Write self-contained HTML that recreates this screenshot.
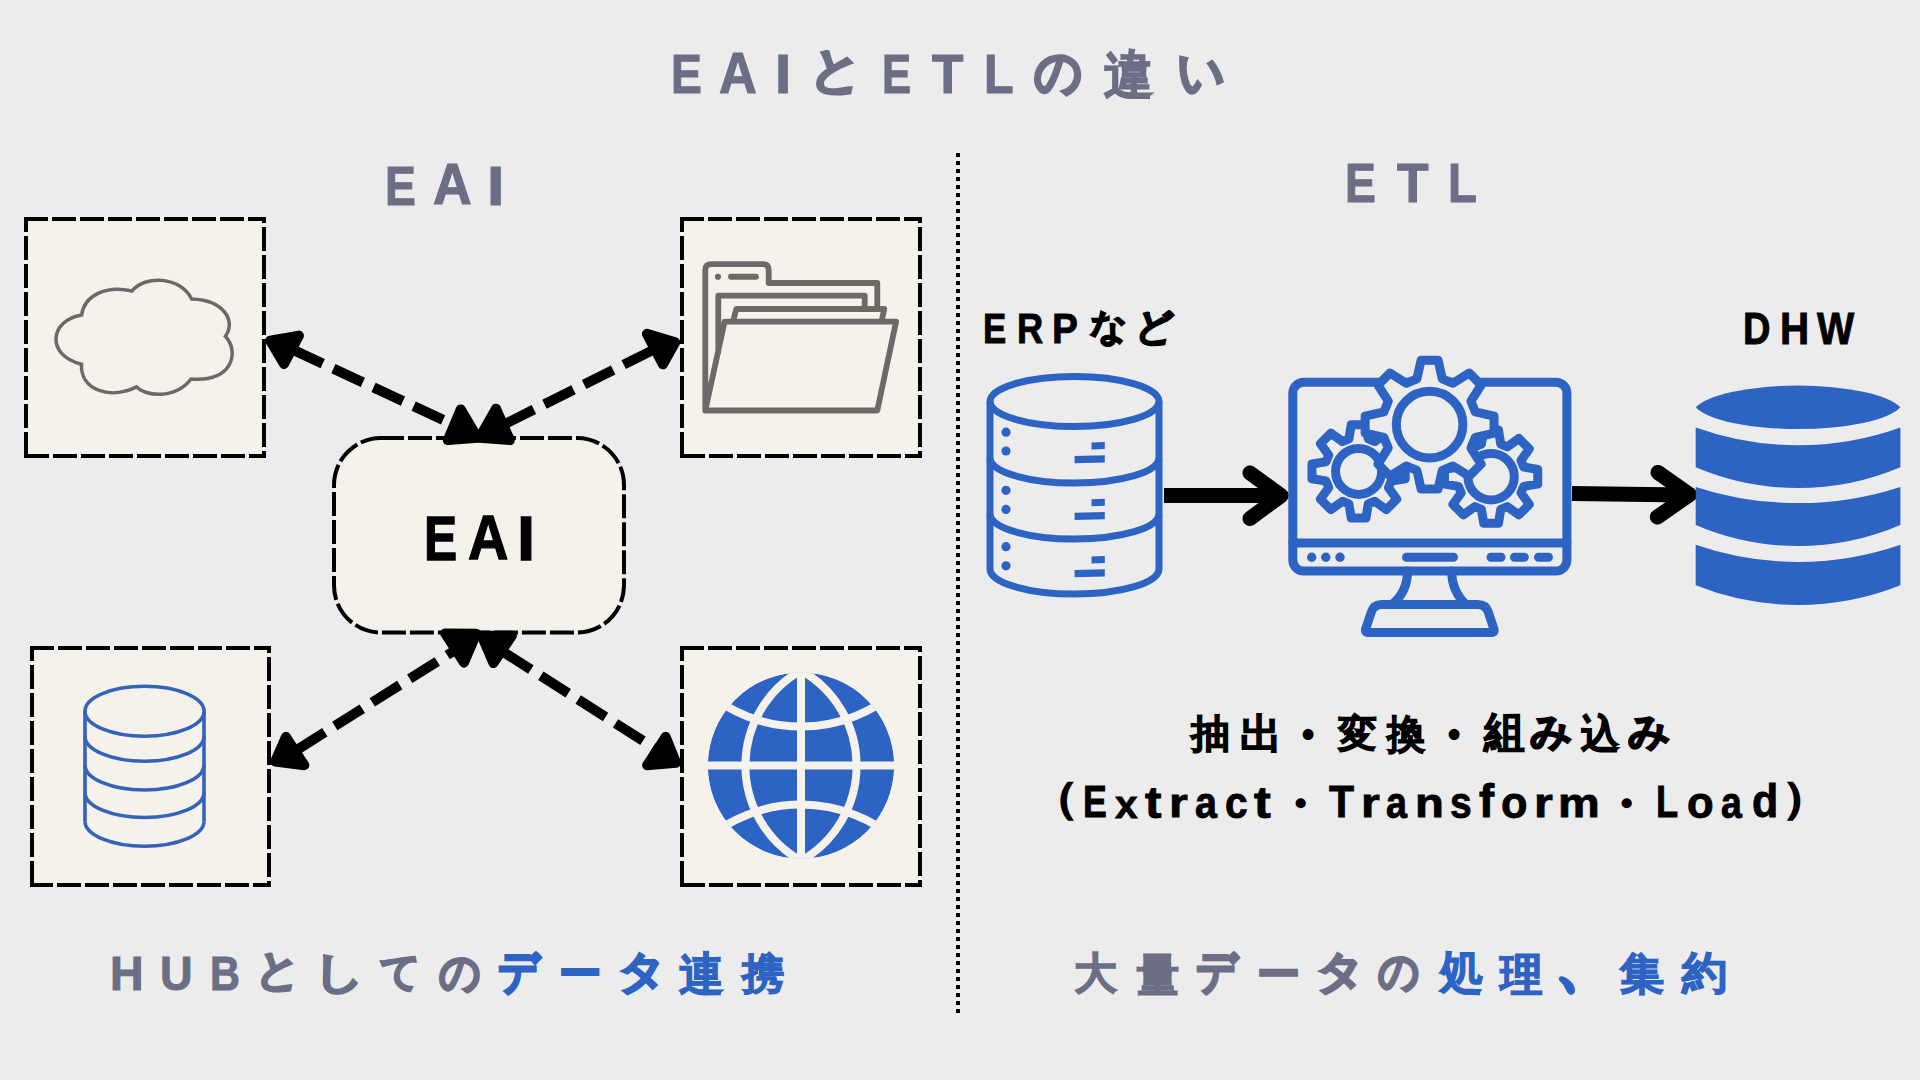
<!DOCTYPE html>
<html lang="ja"><head><meta charset="utf-8"><title>EAIとETLの違い</title>
<style>
html,body{margin:0;padding:0;}
body{width:1920px;height:1080px;background:#ececec;position:relative;overflow:hidden;font-family:"Liberation Sans",sans-serif;font-weight:bold;}
svg{position:absolute;left:0;top:0;}
.t{position:absolute;white-space:nowrap;line-height:1;}
.g{position:absolute;line-height:1;white-space:nowrap;transform-origin:0 0;}
</style></head><body>
<svg width="1920" height="1080" viewBox="0 0 1920 1080">
<rect x="24" y="217" width="242" height="241" fill="#f5f2ec"/>
<path d="M24 217h24v4h-24zM52 217h24v4h-24zM80 217h24v4h-24zM108 217h24v4h-24zM136 217h24v4h-24zM164 217h24v4h-24zM192 217h24v4h-24zM220 217h24v4h-24zM248 217h18v4h-18zM262 217h4v6h-4zM262 227h4v24h-4zM262 255h4v24h-4zM262 283h4v24h-4zM262 311h4v24h-4zM262 339h4v24h-4zM262 367h4v24h-4zM262 395h4v24h-4zM262 423h4v24h-4zM262 451h4v7h-4zM249 454h17v4h-17zM221 454h24v4h-24zM193 454h24v4h-24zM165 454h24v4h-24zM137 454h24v4h-24zM109 454h24v4h-24zM81 454h24v4h-24zM53 454h24v4h-24zM25 454h24v4h-24zM24 432h4v26h-4zM24 404h4v24h-4zM24 376h4v24h-4zM24 348h4v24h-4zM24 320h4v24h-4zM24 292h4v24h-4zM24 264h4v24h-4zM24 236h4v24h-4zM24 217h4v15h-4z" fill="#000"/>
<rect x="680" y="217" width="242" height="241" fill="#f5f2ec"/>
<path d="M680 217h24v4h-24zM708 217h24v4h-24zM736 217h24v4h-24zM764 217h24v4h-24zM792 217h24v4h-24zM820 217h24v4h-24zM848 217h24v4h-24zM876 217h24v4h-24zM904 217h18v4h-18zM918 217h4v6h-4zM918 227h4v24h-4zM918 255h4v24h-4zM918 283h4v24h-4zM918 311h4v24h-4zM918 339h4v24h-4zM918 367h4v24h-4zM918 395h4v24h-4zM918 423h4v24h-4zM918 451h4v7h-4zM905 454h17v4h-17zM877 454h24v4h-24zM849 454h24v4h-24zM821 454h24v4h-24zM793 454h24v4h-24zM765 454h24v4h-24zM737 454h24v4h-24zM709 454h24v4h-24zM681 454h24v4h-24zM680 432h4v26h-4zM680 404h4v24h-4zM680 376h4v24h-4zM680 348h4v24h-4zM680 320h4v24h-4zM680 292h4v24h-4zM680 264h4v24h-4zM680 236h4v24h-4zM680 217h4v15h-4z" fill="#000"/>
<rect x="30" y="646" width="241" height="241" fill="#f5f2ec"/>
<path d="M30 646h24v4h-24zM58 646h24v4h-24zM86 646h24v4h-24zM114 646h24v4h-24zM142 646h24v4h-24zM170 646h24v4h-24zM198 646h24v4h-24zM226 646h24v4h-24zM254 646h17v4h-17zM267 646h4v7h-4zM267 657h4v24h-4zM267 685h4v24h-4zM267 713h4v24h-4zM267 741h4v24h-4zM267 769h4v24h-4zM267 797h4v24h-4zM267 825h4v24h-4zM267 853h4v24h-4zM267 881h4v6h-4zM253 883h18v4h-18zM225 883h24v4h-24zM197 883h24v4h-24zM169 883h24v4h-24zM141 883h24v4h-24zM113 883h24v4h-24zM85 883h24v4h-24zM57 883h24v4h-24zM30 883h23v4h-23zM30 861h4v26h-4zM30 833h4v24h-4zM30 805h4v24h-4zM30 777h4v24h-4zM30 749h4v24h-4zM30 721h4v24h-4zM30 693h4v24h-4zM30 665h4v24h-4zM30 646h4v15h-4z" fill="#000"/>
<rect x="680" y="646" width="242" height="241" fill="#f5f2ec"/>
<path d="M680 646h24v4h-24zM708 646h24v4h-24zM736 646h24v4h-24zM764 646h24v4h-24zM792 646h24v4h-24zM820 646h24v4h-24zM848 646h24v4h-24zM876 646h24v4h-24zM904 646h18v4h-18zM918 646h4v6h-4zM918 656h4v24h-4zM918 684h4v24h-4zM918 712h4v24h-4zM918 740h4v24h-4zM918 768h4v24h-4zM918 796h4v24h-4zM918 824h4v24h-4zM918 852h4v24h-4zM918 880h4v7h-4zM905 883h17v4h-17zM877 883h24v4h-24zM849 883h24v4h-24zM821 883h24v4h-24zM793 883h24v4h-24zM765 883h24v4h-24zM737 883h24v4h-24zM709 883h24v4h-24zM681 883h24v4h-24zM680 861h4v26h-4zM680 833h4v24h-4zM680 805h4v24h-4zM680 777h4v24h-4zM680 749h4v24h-4zM680 721h4v24h-4zM680 693h4v24h-4zM680 665h4v24h-4zM680 646h4v15h-4z" fill="#000"/>
<rect x="334" y="438" width="290" height="194.5" rx="47" ry="47" fill="#f5f2ec" stroke="#000" stroke-width="4" stroke-dasharray="24 4" stroke-dashoffset="1"/>
<line x1="958" y1="153" x2="958" y2="1013" stroke="#000" stroke-width="4" stroke-dasharray="4 4"/>
<path d="M81.7 314.9 C84 296 105 285 132 291 C145 275 180 276 191.7 299 C225 300 236 322 225.4 336.3 C240 352 232 383 191 379 C175 400 145 396 136.6 386.9 C110 400 80 390 81.5 364.2 C45 355 50 320 81.7 314.9 Z" fill="none" stroke="#6b6a68" stroke-width="3.5" stroke-linejoin="miter"/>
<path d="M705.3 410.5 V270 Q705.3 264.2 711 264.2 H763 Q768.7 264.2 768.7 270 V283 H877.3 V309 M718.3 352 V295.6 H864.7 V309 M733 321.6 L736.3 309 H884.3 L881.5 321.6 M724.6 321.6 H896.1 L877.3 410.5 H705.3 Z" fill="none" stroke="#6b6a68" stroke-width="5.8" stroke-linejoin="round" stroke-linecap="round"/>
<circle cx="718" cy="276.75" r="3.1" fill="#6b6a68"/>
<line x1="731" y1="276.75" x2="756" y2="276.75" stroke="#6b6a68" stroke-width="5.8" stroke-linecap="round"/>
<g fill="none" stroke="#3563b8" stroke-width="3.6">
<ellipse cx="144.5" cy="711.25" rx="59.5" ry="25"/>
<path d="M85.0 736.25 A59.5 25 0 0 0 204.0 736.25"/>
<path d="M85.0 765 A59.5 25 0 0 0 204.0 765"/>
<path d="M85.0 792.5 A59.5 25 0 0 0 204.0 792.5"/>
<path d="M85.0 821.25 A59.5 25 0 0 0 204.0 821.25"/>
<line x1="85.0" y1="711.25" x2="85.0" y2="821.25"/><line x1="204.0" y1="711.25" x2="204.0" y2="821.25"/>
</g>
<defs><clipPath id="gclip"><circle cx="801" cy="765.6" r="93.2"/></clipPath></defs>
<g clip-path="url(#gclip)">
<circle cx="801" cy="765.6" r="93.2" fill="#2d63c3"/>
<g fill="none" stroke="#f5f2ec" stroke-width="8">
<line x1="801" y1="667.4" x2="801" y2="863.8000000000001"/>
<line x1="702.8" y1="765.6" x2="899.2" y2="765.6"/>
<path d="M801 670.4 A109.3 109.3 0 0 0 801 860.8000000000001 M801 670.4 A109.3 109.3 0 0 1 801 860.8000000000001"/>
<circle cx="801" cy="579.7" r="146.9"/>
<circle cx="801" cy="951.5" r="146.9"/>
</g></g>
<path d="M293.26 349.85L322.71 363.61M333.4 368.6L362.85 382.36M373.54 387.35L402.98 401.11M413.67 406.1L443.12 419.86M453.81 424.85L469.3 432.09" stroke="#000" stroke-width="10" fill="none"/>
<path d="M652.78 350.11L623.71 364.64M613.16 369.92L584.09 384.45M573.54 389.73L544.47 404.27M533.91 409.54L504.84 424.08M494.29 429.35L487.94 432.53" stroke="#000" stroke-width="10" fill="none"/>
<path d="M297.58 749.47L324.82 732.29M334.8 726L362.29 708.67M372.27 702.37L399.77 685.04M409.75 678.75L437.24 661.42M447.22 655.12L474.38 638.01" stroke="#000" stroke-width="10" fill="none"/>
<path d="M503.42 652.02L530.84 669.47M540.8 675.8L568.22 693.25M578.18 699.58L605.6 717.03M615.55 723.36L642.97 740.81M652.93 747.14L658.92 750.95" stroke="#000" stroke-width="10" fill="none"/>
<path d="M270.23 340.61 L298.94 335.62 L284.03 364 Z" fill="#000" stroke="#000" stroke-width="10" stroke-linejoin="round"/>
<path d="M460.74 409.39 L447.77 440.09 L477.55 437.72 Z" fill="#000" stroke="#000" stroke-width="10" stroke-linejoin="round"/>
<path d="M496.03 408.69 L479.43 437.68 L509.91 440.13 Z" fill="#000" stroke="#000" stroke-width="10" stroke-linejoin="round"/>
<path d="M675.27 342.39 L646.89 333.84 L662.95 364.3 Z" fill="#000" stroke="#000" stroke-width="10" stroke-linejoin="round"/>
<path d="M275.14 761.52 L285.94 736.89 L304.34 765.18 Z" fill="#000" stroke="#000" stroke-width="10" stroke-linejoin="round"/>
<path d="M464 662.62 L445.09 633.39 L476.31 633.73 Z" fill="#000" stroke="#000" stroke-width="10" stroke-linejoin="round"/>
<path d="M493.44 663.02 L481.67 635.75 L511.87 635.82 Z" fill="#000" stroke="#000" stroke-width="10" stroke-linejoin="round"/>
<path d="M676.04 762.68 L665.67 736.88 L647.11 765.27 Z" fill="#000" stroke="#000" stroke-width="10" stroke-linejoin="round"/>
<g fill="none" stroke="#2d63c3" stroke-width="7">
<ellipse cx="1074.5" cy="401.5" rx="84.5" ry="25"/>
<path d="M990.0 458 A84.5 25 0 0 0 1159.0 458"/>
<path d="M990.0 514 A84.5 25 0 0 0 1159.0 514"/>
<path d="M990.0 569 A84.5 25 0 0 0 1159.0 569"/>
<path d="M990.0 401.5 V569 M1159.0 401.5 V569"/>
</g>
<circle cx="1006" cy="432.2" r="4.6" fill="#2d63c3"/>
<circle cx="1006" cy="451" r="4.6" fill="#2d63c3"/>
<circle cx="1006" cy="490.3" r="4.6" fill="#2d63c3"/>
<circle cx="1006" cy="509.4" r="4.6" fill="#2d63c3"/>
<circle cx="1006" cy="546.7" r="4.6" fill="#2d63c3"/>
<circle cx="1006" cy="565.8" r="4.6" fill="#2d63c3"/>
<path d="M1091.5 442.4 L1104.8 441.9 V449 L1091.5 449.5 Z M1074.6 456 L1104.8 455.2 V462.4 L1074.6 463.3 Z" fill="#2d63c3"/>
<path d="M1091.5 499.2 L1104.8 498.7 V505.8 L1091.5 506.3 Z M1074.6 512.8 L1104.8 512.0 V519.1999999999999 L1074.6 520.1 Z" fill="#2d63c3"/>
<path d="M1091.5 556.4 L1104.8 555.9 V563 L1091.5 563.5 Z M1074.6 570 L1104.8 569.2 V576.4 L1074.6 577.3 Z" fill="#2d63c3"/>
<g fill="none" stroke="#2d63c3" stroke-width="9" stroke-linejoin="round" stroke-linecap="round">
<rect x="1292.8" y="382.2" width="274.1" height="188.9" rx="11"/>
<line x1="1292.8" y1="542.9" x2="1566.9" y2="542.9"/>
<path d="M1407.5 571 C1407.5 588 1400 598 1392 604.5 M1451.7 571 C1451.7 588 1459 598 1466 604.5"/>
<path d="M1381.8 604.5 H1477.8 Q1485.8 604.5 1488.3 612.1 L1493.85 628.7 Q1495.1 632.5 1491.1 632.5 H1368.5 Q1364.5 632.5 1365.75 628.7 L1371.3 612.1 Q1373.8 604.5 1381.8 604.5 Z"/>
<path d="M1406.5 557.2 H1453.5 M1491 557.2 H1501 M1514.5 557.2 H1524.3 M1538.5 557.2 H1548.5"/>
</g>
<circle cx="1311.7" cy="557.2" r="4.7" fill="#2d63c3"/>
<circle cx="1325.8" cy="557.2" r="4.7" fill="#2d63c3"/>
<circle cx="1340" cy="557.2" r="4.7" fill="#2d63c3"/>
<path d="M1348.94 438.8 L1351.22 424.78 L1365.98 424.78 L1368.26 438.8 L1374.82 441.52 L1386.34 433.21 L1396.79 443.66 L1388.48 455.18 L1391.2 461.74 L1405.22 464.02 L1405.22 478.78 L1391.2 481.06 L1388.48 487.62 L1396.79 499.14 L1386.34 509.59 L1374.82 501.28 L1368.26 504 L1365.98 518.02 L1351.22 518.02 L1348.94 504 L1342.38 501.28 L1330.86 509.59 L1320.41 499.14 L1328.72 487.62 L1326 481.06 L1311.98 478.78 L1311.98 464.02 L1326 461.74 L1328.72 455.18 L1320.41 443.66 L1330.86 433.21 L1342.38 441.52 Z" fill="none" stroke="#2d63c3" stroke-width="9" stroke-linejoin="round"/>
<circle cx="1358.6" cy="471.4" r="23" fill="none" stroke="#2d63c3" stroke-width="9"/>
<path d="M1481.44 444.1 L1483.72 430.08 L1498.48 430.08 L1500.76 444.1 L1507.32 446.82 L1518.84 438.51 L1529.29 448.96 L1520.98 460.48 L1523.7 467.04 L1537.72 469.32 L1537.72 484.08 L1523.7 486.36 L1520.98 492.92 L1529.29 504.44 L1518.84 514.89 L1507.32 506.58 L1500.76 509.3 L1498.48 523.32 L1483.72 523.32 L1481.44 509.3 L1474.88 506.58 L1463.36 514.89 L1452.91 504.44 L1461.22 492.92 L1458.5 486.36 L1444.48 484.08 L1444.48 469.32 L1458.5 467.04 L1461.22 460.48 L1452.91 448.96 L1463.36 438.51 L1474.88 446.82 Z" fill="none" stroke="#2d63c3" stroke-width="9" stroke-linejoin="round"/>
<circle cx="1491.1" cy="476.7" r="23.2" fill="none" stroke="#2d63c3" stroke-width="9"/>
<path d="M1416.91 378.83 L1421.12 360.16 L1438.08 360.16 L1442.29 378.83 L1452.99 383.26 L1469.17 373.03 L1481.17 385.03 L1470.94 401.21 L1475.37 411.91 L1494.04 416.12 L1494.04 433.08 L1475.37 437.29 L1470.94 447.99 L1481.17 464.17 L1469.17 476.17 L1452.99 465.94 L1442.29 470.37 L1438.08 489.04 L1421.12 489.04 L1416.91 470.37 L1406.21 465.94 L1390.03 476.17 L1378.03 464.17 L1388.26 447.99 L1383.83 437.29 L1365.16 433.08 L1365.16 416.12 L1383.83 411.91 L1388.26 401.21 L1378.03 385.03 L1390.03 373.03 L1406.21 383.26 Z" fill="#ececec" stroke="#2d63c3" stroke-width="9" stroke-linejoin="round"/>
<circle cx="1429.6" cy="424.6" r="33.3" fill="none" stroke="#2d63c3" stroke-width="9"/>
<g stroke="#000" stroke-width="15" fill="none" stroke-linecap="round" stroke-linejoin="round">
<path d="M1164 495.6 H1278" stroke-linecap="butt"/>
<path d="M1250 473 L1281 495.6 L1250 518.5"/>
<path d="M1572 493.5 L1685 495" stroke-linecap="butt"/>
<path d="M1658 472.5 L1689.6 494.6 L1657.3 517"/>
</g>
<g fill="#2d63c3">
<path d="M1695.7 407.3 A105.42 28.54 0 0 1 1900.4 407.3 A105.42 28.54 0 0 1 1695.7 407.3 Z"/>
<path d="M1695.7 427.4 A303.16 303.16 0 0 0 1900.4 427.4 V467.2 A262.22 262.22 0 0 1 1695.7 467.2 Z"/>
<path d="M1695.7 486.9 A331.42 331.42 0 0 0 1900.4 486.9 V525 A259.92 259.92 0 0 1 1695.7 525 Z"/>
<path d="M1695.7 544.8 A313.12 313.12 0 0 0 1900.4 544.8 V585.3 A275.73 275.73 0 0 1 1695.7 585.3 Z"/>
</g>
</svg>
<span class="g" style="left:671.087px;top:46.321px;font-size:55.858px;color:#6b6e84;transform:scaleX(0.828);-webkit-text-stroke:1.117px #6b6e84">E</span>
<span class="g" style="left:719.197px;top:45.602px;font-size:56.656px;color:#6b6e84;transform:scaleX(0.923);-webkit-text-stroke:1.133px #6b6e84">A</span>
<span class="g" style="left:774.614px;top:46.321px;font-size:55.858px;color:#6b6e84;transform:scaleX(1.04);-webkit-text-stroke:1.117px #6b6e84">I</span>
<span class="g" style="left:809.086px;top:45.395px;font-size:50.229px;color:#6b6e84;transform:scaleX(1.051);-webkit-text-stroke:2.511px #6b6e84">と</span>
<span class="g" style="left:882.309px;top:46.321px;font-size:55.858px;color:#6b6e84;transform:scaleX(0.779);-webkit-text-stroke:1.117px #6b6e84">E</span>
<span class="g" style="left:931.82px;top:46.639px;font-size:55.604px;color:#6b6e84;transform:scaleX(0.926);-webkit-text-stroke:1.112px #6b6e84">T</span>
<span class="g" style="left:983.549px;top:46.639px;font-size:55.604px;color:#6b6e84;transform:scaleX(0.872);-webkit-text-stroke:1.112px #6b6e84">L</span>
<span class="g" style="left:1033.64px;top:45.966px;font-size:52.337px;color:#6b6e84;transform:scaleX(0.912);-webkit-text-stroke:2.617px #6b6e84">の</span>
<span class="g" style="left:1104.095px;top:48.725px;font-size:52.459px;color:#6b6e84;transform:scaleX(0.944);-webkit-text-stroke:1.469px #6b6e84">違</span>
<span class="g" style="left:1176.681px;top:46.537px;font-size:51.431px;color:#6b6e84;transform:scaleX(0.921);-webkit-text-stroke:2.572px #6b6e84">い</span>
<span class="g" style="left:385.406px;top:158.461px;font-size:55.858px;color:#6b6e84;transform:scaleX(0.828);-webkit-text-stroke:1.117px #6b6e84">E</span>
<span class="g" style="left:433.185px;top:157.142px;font-size:56.656px;color:#6b6e84;transform:scaleX(0.944);-webkit-text-stroke:1.133px #6b6e84">A</span>
<span class="g" style="left:487.47px;top:158.461px;font-size:55.858px;color:#6b6e84;transform:scaleX(1.119);-webkit-text-stroke:1.117px #6b6e84">I</span>
<span class="g" style="left:1345.406px;top:155.639px;font-size:55.604px;color:#6b6e84;transform:scaleX(0.832);-webkit-text-stroke:1.112px #6b6e84">E</span>
<span class="g" style="left:1396.55px;top:155.639px;font-size:55.604px;color:#6b6e84;transform:scaleX(0.929);-webkit-text-stroke:1.112px #6b6e84">T</span>
<span class="g" style="left:1447.85px;top:155.639px;font-size:55.604px;color:#6b6e84;transform:scaleX(0.848);-webkit-text-stroke:1.112px #6b6e84">L</span>
<span class="g" style="left:424.479px;top:506.365px;font-size:63.7px;color:#000000;transform:scaleX(0.78);-webkit-text-stroke:1.274px #000000">E</span>
<span class="g" style="left:467.799px;top:506.435px;font-size:63.231px;color:#000000;transform:scaleX(0.886);-webkit-text-stroke:1.265px #000000">A</span>
<span class="g" style="left:516.761px;top:506.365px;font-size:63.7px;color:#000000;transform:scaleX(1.025);-webkit-text-stroke:1.274px #000000">I</span>
<span class="g" style="left:983.448px;top:307.387px;font-size:42.886px;color:#000000;transform:scaleX(0.813);-webkit-text-stroke:0.858px #000000">E</span>
<span class="g" style="left:1016.645px;top:307.387px;font-size:42.886px;color:#000000;transform:scaleX(0.845);-webkit-text-stroke:0.858px #000000">R</span>
<span class="g" style="left:1052.45px;top:307.387px;font-size:42.886px;color:#000000;transform:scaleX(0.905);-webkit-text-stroke:0.858px #000000">P</span>
<span class="g" style="left:1089.917px;top:308.83px;font-size:36.194px;color:#000000;transform:scaleX(1.01);-webkit-text-stroke:1.81px #000000">な</span>
<span class="g" style="left:1135.087px;top:307.86px;font-size:38.392px;color:#000000;transform:scaleX(1.006);-webkit-text-stroke:1.92px #000000">ど</span>
<span class="g" style="left:1742.862px;top:307.535px;font-size:43.502px;color:#000000;transform:scaleX(0.873);-webkit-text-stroke:0.87px #000000">D</span>
<span class="g" style="left:1779.856px;top:307.535px;font-size:43.502px;color:#000000;transform:scaleX(0.929);-webkit-text-stroke:0.87px #000000">H</span>
<span class="g" style="left:1817.294px;top:307.535px;font-size:43.502px;color:#000000;transform:scaleX(0.905);-webkit-text-stroke:0.87px #000000">W</span>
<span class="g" style="left:1190.965px;top:713.5px;font-size:39.126px;color:#000000;transform:scaleX(1.005);-webkit-text-stroke:1.096px #000000">抽</span>
<span class="g" style="left:1240.436px;top:714px;font-size:40.632px;color:#000000;transform:scaleX(1.021);-webkit-text-stroke:1.138px #000000">出</span>
<span class="g" style="left:1284.814px;top:711.948px;font-size:46.926px;color:#000000;transform:scaleX(0.959);-webkit-text-stroke:2.346px #000000">・</span>
<span class="g" style="left:1337.531px;top:714.469px;font-size:39.225px;color:#000000;transform:scaleX(0.995);-webkit-text-stroke:1.098px #000000">変</span>
<span class="g" style="left:1387.087px;top:713.7px;font-size:40.002px;color:#000000;transform:scaleX(0.954);-webkit-text-stroke:1.12px #000000">換</span>
<span class="g" style="left:1431.454px;top:711.948px;font-size:46.926px;color:#000000;transform:scaleX(0.959);-webkit-text-stroke:2.346px #000000">・</span>
<span class="g" style="left:1483.689px;top:712.399px;font-size:42.528px;color:#000000;transform:scaleX(0.946);-webkit-text-stroke:1.191px #000000">組</span>
<span class="g" style="left:1530.32px;top:711.696px;font-size:39.13px;color:#000000;transform:scaleX(1.063);-webkit-text-stroke:1.957px #000000">み</span>
<span class="g" style="left:1581.393px;top:714.325px;font-size:41.226px;color:#000000;transform:scaleX(0.938);-webkit-text-stroke:1.154px #000000">込</span>
<span class="g" style="left:1627.82px;top:711.696px;font-size:39.13px;color:#000000;transform:scaleX(1.063);-webkit-text-stroke:1.957px #000000">み</span>
<span class="g" style="left:1032.745px;top:776.577px;font-size:42.488px;color:#000000;transform:scaleX(1.062);-webkit-text-stroke:1.7px #000000">（</span>
<span class="g" style="left:1082.537px;top:779.984px;font-size:43.776px;color:#000000;transform:scaleX(0.816);-webkit-text-stroke:0.876px #000000">E</span>
<span class="g" style="left:1115.406px;top:784.707px;font-size:39.331px;color:#000000;transform:scaleX(1.031);-webkit-text-stroke:0.787px #000000">x</span>
<span class="g" style="left:1145.32px;top:781.318px;font-size:44.118px;color:#000000;transform:scaleX(1.121);-webkit-text-stroke:0.882px #000000">t</span>
<span class="g" style="left:1169.286px;top:782.852px;font-size:41.16px;color:#000000;transform:scaleX(1.172);-webkit-text-stroke:0.823px #000000">r</span>
<span class="g" style="left:1194.53px;top:781.427px;font-size:43.91px;color:#000000;transform:scaleX(0.899);-webkit-text-stroke:0.878px #000000">a</span>
<span class="g" style="left:1225.281px;top:781.138px;font-size:44.874px;color:#000000;transform:scaleX(0.905);-webkit-text-stroke:0.897px #000000">c</span>
<span class="g" style="left:1254.36px;top:781.318px;font-size:44.118px;color:#000000;transform:scaleX(1.142);-webkit-text-stroke:0.882px #000000">t</span>
<span class="g" style="left:1278.667px;top:782.547px;font-size:41.667px;color:#000000;transform:scaleX(1.008);-webkit-text-stroke:2.083px #000000">・</span>
<span class="g" style="left:1328.5px;top:779.984px;font-size:43.776px;color:#000000;transform:scaleX(0.936);-webkit-text-stroke:0.876px #000000">T</span>
<span class="g" style="left:1361.106px;top:782.852px;font-size:41.16px;color:#000000;transform:scaleX(1.172);-webkit-text-stroke:0.823px #000000">r</span>
<span class="g" style="left:1385.787px;top:780.827px;font-size:43.91px;color:#000000;transform:scaleX(0.858);-webkit-text-stroke:0.878px #000000">a</span>
<span class="g" style="left:1415.168px;top:782.852px;font-size:41.16px;color:#000000;transform:scaleX(1.147);-webkit-text-stroke:0.823px #000000">n</span>
<span class="g" style="left:1450.169px;top:779.955px;font-size:44.816px;color:#000000;transform:scaleX(0.871);-webkit-text-stroke:0.896px #000000">s</span>
<span class="g" style="left:1479.187px;top:779.107px;font-size:45.389px;color:#000000;transform:scaleX(0.998);-webkit-text-stroke:0.908px #000000">f</span>
<span class="g" style="left:1501.482px;top:781.138px;font-size:44.874px;color:#000000;transform:scaleX(0.964);-webkit-text-stroke:0.897px #000000">o</span>
<span class="g" style="left:1533.926px;top:782.852px;font-size:41.16px;color:#000000;transform:scaleX(1.172);-webkit-text-stroke:0.823px #000000">r</span>
<span class="g" style="left:1558.403px;top:782.852px;font-size:41.16px;color:#000000;transform:scaleX(1.14);-webkit-text-stroke:0.823px #000000">m</span>
<span class="g" style="left:1605.207px;top:782.547px;font-size:41.667px;color:#000000;transform:scaleX(1.008);-webkit-text-stroke:2.083px #000000">・</span>
<span class="g" style="left:1656.325px;top:779.984px;font-size:43.776px;color:#000000;transform:scaleX(0.828);-webkit-text-stroke:0.876px #000000">L</span>
<span class="g" style="left:1686.511px;top:781.138px;font-size:44.874px;color:#000000;transform:scaleX(0.972);-webkit-text-stroke:0.897px #000000">o</span>
<span class="g" style="left:1721.251px;top:781.427px;font-size:43.91px;color:#000000;transform:scaleX(0.853);-webkit-text-stroke:0.878px #000000">a</span>
<span class="g" style="left:1752.492px;top:779.102px;font-size:45.435px;color:#000000;transform:scaleX(0.945);-webkit-text-stroke:0.909px #000000">d</span>
<span class="g" style="left:1782.757px;top:776.577px;font-size:42.488px;color:#000000;transform:scaleX(1.062);-webkit-text-stroke:1.7px #000000">）</span>
<span class="g" style="left:109.529px;top:950.005px;font-size:47.963px;color:#6b6e84;transform:scaleX(0.97);-webkit-text-stroke:0.959px #6b6e84">H</span>
<span class="g" style="left:159.889px;top:949.296px;font-size:48.694px;color:#6b6e84;transform:scaleX(0.925);-webkit-text-stroke:0.974px #6b6e84">U</span>
<span class="g" style="left:209.972px;top:950.005px;font-size:47.963px;color:#6b6e84;transform:scaleX(0.864);-webkit-text-stroke:0.959px #6b6e84">B</span>
<span class="g" style="left:255.188px;top:949.311px;font-size:43.539px;color:#6b6e84;transform:scaleX(1.018);-webkit-text-stroke:2.177px #6b6e84">と</span>
<span class="g" style="left:314.034px;top:950.681px;font-size:42.739px;color:#6b6e84;transform:scaleX(1.147);-webkit-text-stroke:2.137px #6b6e84">し</span>
<span class="g" style="left:379.84px;top:952.061px;font-size:41.263px;color:#6b6e84;transform:scaleX(0.97);-webkit-text-stroke:2.063px #6b6e84">て</span>
<span class="g" style="left:438.64px;top:949.958px;font-size:45.264px;color:#6b6e84;transform:scaleX(0.91);-webkit-text-stroke:2.263px #6b6e84">の</span>
<span class="g" style="left:498.229px;top:947.55px;font-size:47.872px;color:#2d63c3;transform:scaleX(0.847);-webkit-text-stroke:2.394px #2d63c3">デ</span>
<span class="g" style="left:559.41px;top:952.919px;font-size:42.45px;color:#2d63c3;transform:scaleX(1.008);-webkit-text-stroke:2.123px #2d63c3">ー</span>
<span class="g" style="left:618.165px;top:949.758px;font-size:44.044px;color:#2d63c3;transform:scaleX(1.071);-webkit-text-stroke:2.202px #2d63c3">タ</span>
<span class="g" style="left:679.482px;top:951.55px;font-size:45.62px;color:#2d63c3;transform:scaleX(0.969);-webkit-text-stroke:1.277px #2d63c3">連</span>
<span class="g" style="left:742.291px;top:953.413px;font-size:42.096px;color:#2d63c3;transform:scaleX(1.003);-webkit-text-stroke:1.179px #2d63c3">携</span>
<span class="g" style="left:1073.703px;top:952.15px;font-size:43.276px;color:#6b6e84;transform:scaleX(0.999);-webkit-text-stroke:1.212px #6b6e84">大</span>
<span class="g" style="left:1137.02px;top:951.68px;font-size:45.989px;color:#6b6e84;transform:scaleX(0.914);-webkit-text-stroke:1.288px #6b6e84">量</span>
<span class="g" style="left:1195.729px;top:947.55px;font-size:47.872px;color:#6b6e84;transform:scaleX(0.847);-webkit-text-stroke:2.394px #6b6e84">デ</span>
<span class="g" style="left:1256.91px;top:953.256px;font-size:42.747px;color:#6b6e84;transform:scaleX(1.001);-webkit-text-stroke:2.137px #6b6e84">ー</span>
<span class="g" style="left:1316.425px;top:949.758px;font-size:44.044px;color:#6b6e84;transform:scaleX(1.079);-webkit-text-stroke:2.202px #6b6e84">タ</span>
<span class="g" style="left:1378.45px;top:948.78px;font-size:45.122px;color:#6b6e84;transform:scaleX(0.904);-webkit-text-stroke:2.256px #6b6e84">の</span>
<span class="g" style="left:1439.62px;top:950.327px;font-size:45.567px;color:#2d63c3;transform:scaleX(0.93);-webkit-text-stroke:1.276px #2d63c3">処</span>
<span class="g" style="left:1500.353px;top:952.763px;font-size:44.334px;color:#2d63c3;transform:scaleX(0.966);-webkit-text-stroke:1.241px #2d63c3">理</span>
<span class="g" style="left:1555.457px;top:926.747px;font-size:67.856px;color:#2d63c3;transform:scaleX(0.88);-webkit-text-stroke:2.714px #2d63c3">、</span>
<span class="g" style="left:1620.366px;top:951.55px;font-size:44.2px;color:#2d63c3;transform:scaleX(1);-webkit-text-stroke:1.238px #2d63c3">集</span>
<span class="g" style="left:1681.544px;top:951.108px;font-size:44.2px;color:#2d63c3;transform:scaleX(1.028);-webkit-text-stroke:1.238px #2d63c3">約</span>

</body></html>
